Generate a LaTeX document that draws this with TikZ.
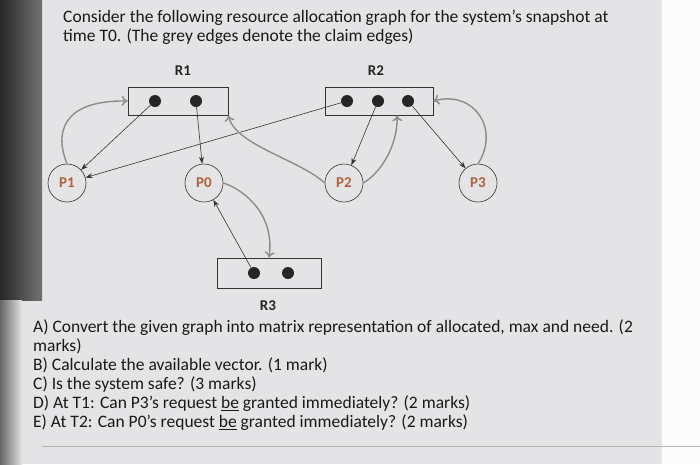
\documentclass[tikz,border=0pt]{standalone}
\usepackage{fontspec}
\setmainfont{Carlito}
\usetikzlibrary{arrows.meta}
\definecolor{bg}{HTML}{E4E4E6}
\definecolor{lbl}{HTML}{B0603E}
\tikzset{
  proc/.style={circle,draw=black!80,semithick,fill=bg,minimum size=38pt,inner sep=0pt,font=\bfseries\fontsize{15}{15}\selectfont,text=lbl},
  res/.style={draw=black!80,semithick,minimum width=100pt,minimum height=28pt},
  dot/.style={circle,fill=black!85,minimum size=12pt,inner sep=0pt},
  alloc/.style={-{Stealth[length=7pt,width=5pt]},black!80,semithick},
  claim/.style={-{To[length=6pt,width=10pt]},black!45,line width=1.4pt},
  rlab/.style={font=\bfseries\fontsize{15}{15}\selectfont,text=black!85},
  txt/.style={anchor=west,font=\fontsize{17.5}{20}\selectfont,text=black!90,inner sep=0pt}
}
\begin{document}
\begin{tikzpicture}[x=1pt,y=-1pt]
\useasboundingbox (0,0) rectangle (700,464);
\fill[bg] (0,0) rectangle (700,464);
\shade[left color=black!85,right color=black!55] (0,0) rectangle (42,300);
\shade[left color=black!60,right color=bg] (0,300) rectangle (22,464);
\fill[white!90!bg] (662,0) rectangle (700,464);
\draw[black!30] (42,446) -- (700,446);
\node[txt] (h1) at (63,18) {Consider the following resource allocation graph for the system’s snapshot at};
\node[txt] (h2) at (63,37) {time T0. (The grey edges denote the claim edges)};
\node[res] (R1) at (178,101) {};
\node[res,minimum width=108pt] (R2) at (379,101) {};
\node[res,minimum width=104pt,minimum height=30pt] (R3) at (269,273) {};
\node[rlab] (l1) at (183,71) {R1};
\node[rlab] (l2) at (376,71) {R2};
\node[rlab] (l3) at (268,306) {R3};
\node[dot] (a1) at (155,101) {}; \node[dot] (a2) at (196,101) {};
\node[dot] (b1) at (347,101) {}; \node[dot] (b2) at (378,101) {}; \node[dot] (b3) at (408,101) {};
\node[dot] (c1) at (254,273) {}; \node[dot] (c2) at (288,273) {};
\node[proc] (P1) at (67,183) {P1};
\node[proc] (P0) at (204,183) {P0};
\node[proc] (P2) at (344,183) {P2};
\node[proc] (P3) at (478,183) {P3};
\draw[alloc] (a1) -- (P1);
\draw[alloc] (a2) -- (P0);
\draw[alloc] (b1) -- (P1);
\draw[alloc] (b2) -- (P2);
\draw[alloc] (b3) -- (P3);
\draw[alloc] (c1) -- (P0);
\draw[claim] (P1.north) .. controls (55,135) and (60,100) .. (R1.west);
\draw[claim] (P2.west) .. controls (300,160) and (235,145) .. (R1.south east);
\draw[claim] (P2.east) .. controls (385,170) and (398,140) .. ([xshift=18pt]R2.south);
\draw[claim] (P3.north) .. controls (500,130) and (475,90) .. (R2.east);
\draw[claim] (P0.east) .. controls (245,190) and (275,215) .. (R3.north);
\node[txt] (q1) at (33,328) {A) Convert the given graph into matrix representation of allocated, max and need. (2};
\node[txt] (q1b) at (33,346) {marks)};
\node[txt] (q2) at (33,365) {B) Calculate the available vector. (1 mark)};
\node[txt] (q3) at (33,384) {C) Is the system safe? (3 marks)};
\node[txt] (q4) at (33,404) {D) At T1: Can P3’s request \underline{be} granted immediately? (2 marks)};
\node[txt] (q5) at (33,423) {E) At T2: Can P0’s request \underline{be} granted immediately? (2 marks)};
\end{tikzpicture}
\end{document}
